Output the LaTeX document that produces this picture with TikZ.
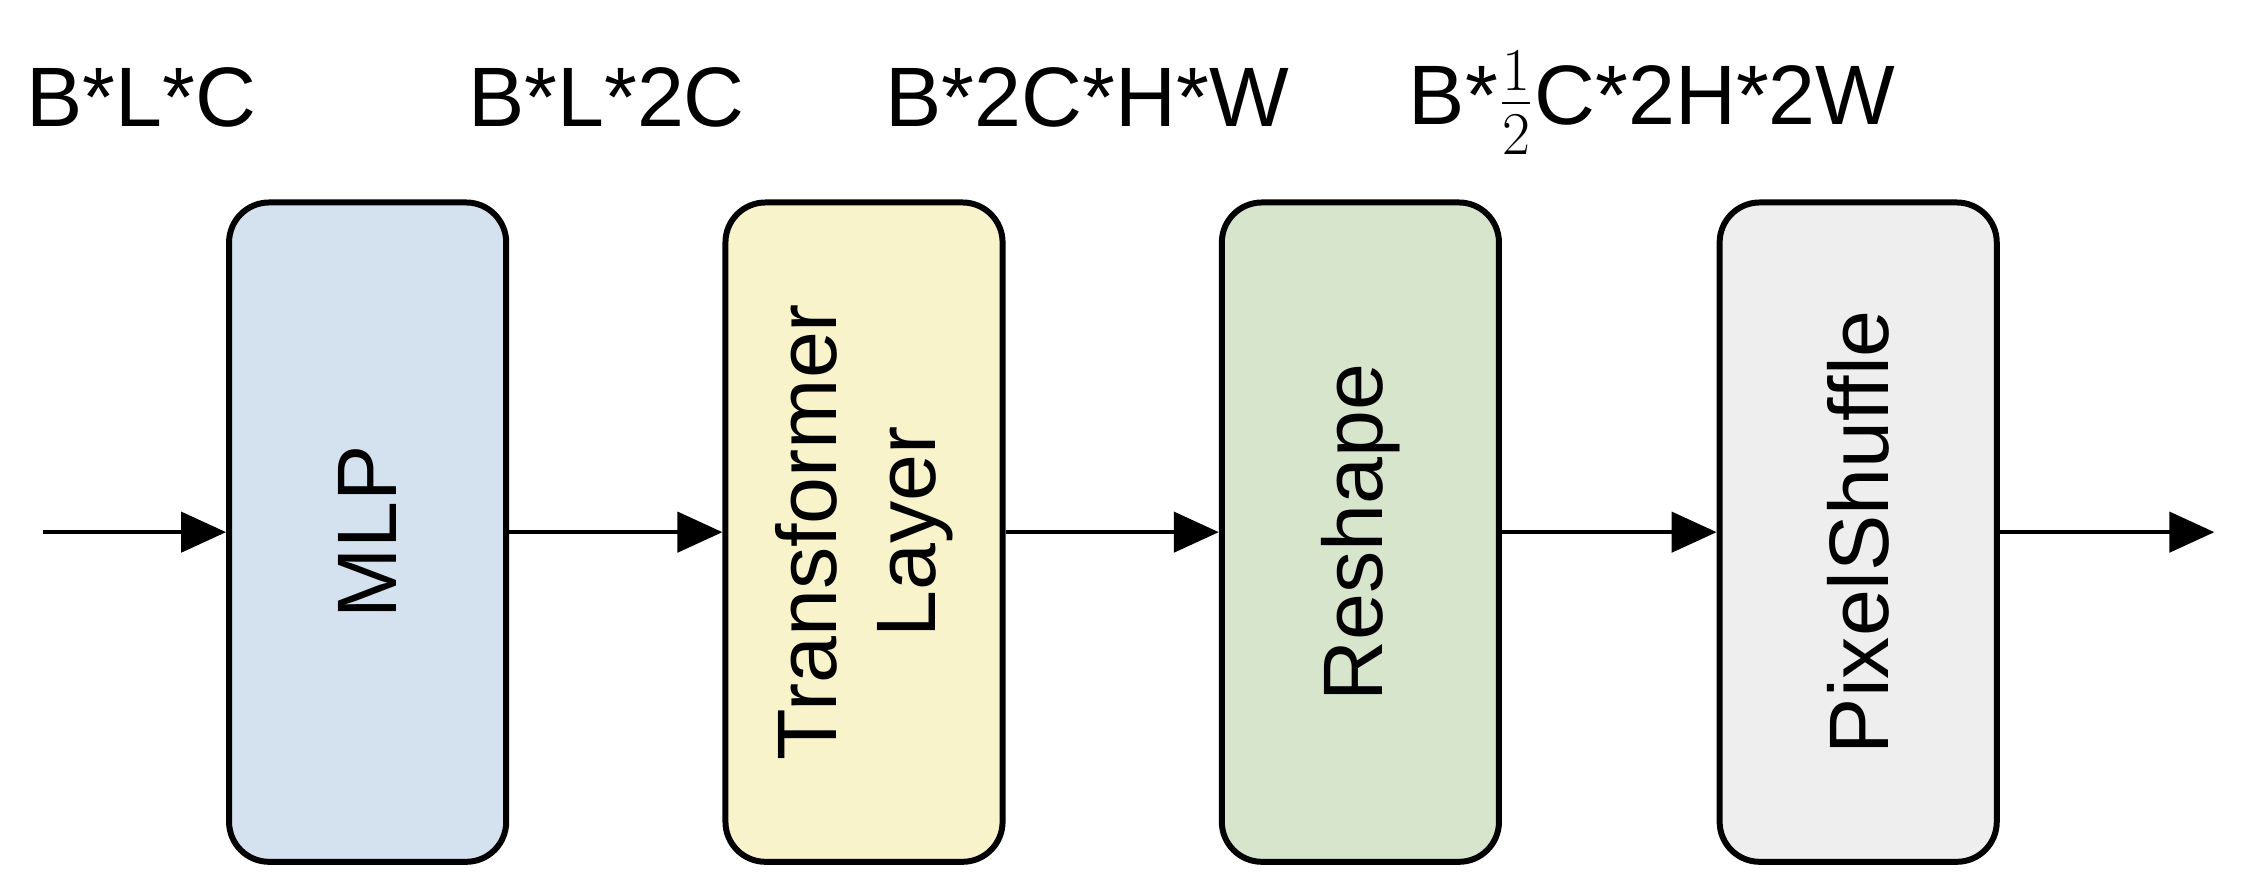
\documentclass[tikz,border=0pt]{standalone}
\usepackage{fontspec}
\setmainfont{Liberation Sans}
\usetikzlibrary{arrows.meta}
\definecolor{mlpblue}{HTML}{D4E1EF}
\definecolor{tfyellow}{HTML}{F8F3CA}
\definecolor{rsgreen}{HTML}{D7E5CD}
\definecolor{psgray}{HTML}{EEEEEE}
\begin{document}
\begin{tikzpicture}[x=0.0143cm,y=-0.0143cm,>={Triangle[length=0.45cm,width=0.4cm]},
    block/.style={rectangle, rotate=90, draw, line width=1.7pt, rounded corners=0.4cm,
      minimum width=6.59cm, minimum height=2.77cm, align=center, font=\fontsize{24}{28}\selectfont},
    dim/.style={font=\fontsize{24}{28}\selectfont, inner sep=0pt},
    con/.style={->, line width=1.3pt}
    ]
    \useasboundingbox (0,0) rectangle (1568,621);
    \node (mlp) [block, fill=mlpblue] at (257,372) {MLP};
    \node (tf) [block, fill=tfyellow] at (604,372) {Transformer\\Layer};
    \node (rs) [block, fill=rsgreen] at (951,372) {Reshape};
    \node (ps) [block, fill=psgray] at (1299,372) {PixelShuffle};
    \coordinate (in) at (30,372);
    \coordinate (out) at (1548,372);
    % shape labels
    \node (d1) [dim] at (99,68) {B*L*C};
    \node (d2) [dim] at (424,68) {B*L*2C};
    \node (d3) [dim] at (760,68) {B*2C*H*W};
    \node (d4) [dim] at (1155,72) {B*$\frac{1}{2}$C*2H*2W};

    \draw [con] (in) -- (mlp);
    \draw [con] (mlp) -- (tf);
    \draw [con] (tf) -- (rs);
    \draw [con] (rs) -- (ps);
    \draw [con] (ps) -- (out);
\end{tikzpicture}
\end{document}
